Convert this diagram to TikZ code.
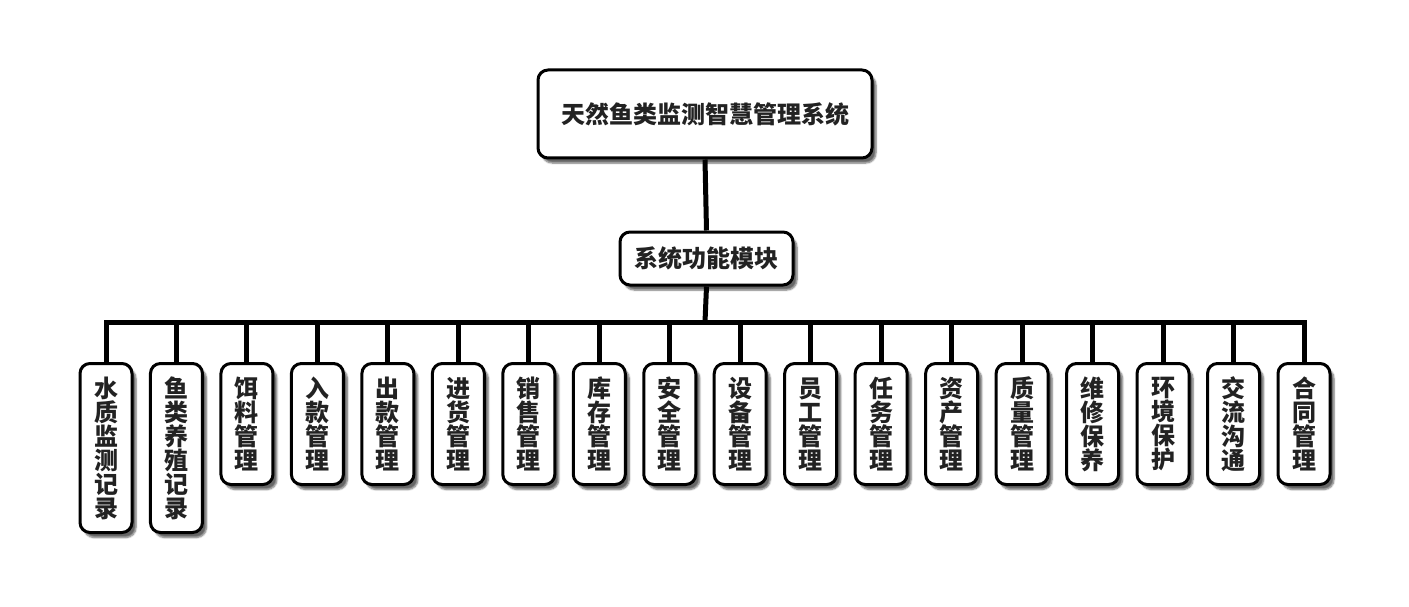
\documentclass[tikz,border=0pt]{standalone}
\usepackage{fontspec}
\newfontfamily\cjk{Noto Sans CJK SC}
\usetikzlibrary{shadows.blur,backgrounds}
\definecolor{txt}{HTML}{222222}
\tikzset{
  box/.style={draw=black, line width=3pt, rounded corners=10pt, fill=white,
    blur shadow={shadow xshift=4pt, shadow yshift=-5pt, shadow blur steps=6, shadow opacity=60},
    text=txt, font=\cjk\bfseries\fontsize{24pt}{24pt}\selectfont, align=center, inner sep=0pt},
  leafbox/.style={box, anchor=north, minimum width=52pt, minimum height=121pt},
  tallbox/.style={leafbox, minimum height=169pt},
  conn/.style={line width=5pt, draw=black, line join=miter}
}
\begin{document}
\begin{tikzpicture}[x=1pt,y=-1pt]
\useasboundingbox (0,0) rectangle (1409,607);
\node[box, minimum width=334pt, minimum height=88pt] (top) at (705,114) {天然鱼类监测智慧管理系统};
\node[box, minimum width=173pt, minimum height=53pt] (mid) at (706.5,258.5) {系统功能模块};
\coordinate (bus) at (705,322);
\foreach \i/\t/\s in {0/水\\质\\监\\测\\记\\录/tallbox, 1/鱼\\类\\养\\殖\\记\\录/tallbox, 2/饵\\料\\管\\理/leafbox, 3/入\\款\\管\\理/leafbox, 4/出\\款\\管\\理/leafbox, 5/进\\货\\管\\理/leafbox, 6/销\\售\\管\\理/leafbox, 7/库\\存\\管\\理/leafbox, 8/安\\全\\管\\理/leafbox, 9/设\\备\\管\\理/leafbox, 10/员\\工\\管\\理/leafbox, 11/任\\务\\管\\理/leafbox, 12/资\\产\\管\\理/leafbox, 13/质\\量\\管\\理/leafbox, 14/维\\修\\保\\养/leafbox, 15/环\\境\\保\\护/leafbox, 16/交\\流\\沟\\通/leafbox, 17/合\\同\\管\\理/leafbox}{
  \node[\s] (leaf\i) at ({106+\i*70.47},362) {\t};
}
\begin{scope}[on background layer]
\draw[conn] (top.south) -- (mid.north);
\draw[conn] (mid.south) -- (bus);
\foreach \i in {0,...,17}{
  \draw[conn] (leaf\i.north) |- (bus);
}
\end{scope}
\end{tikzpicture}
\end{document}
